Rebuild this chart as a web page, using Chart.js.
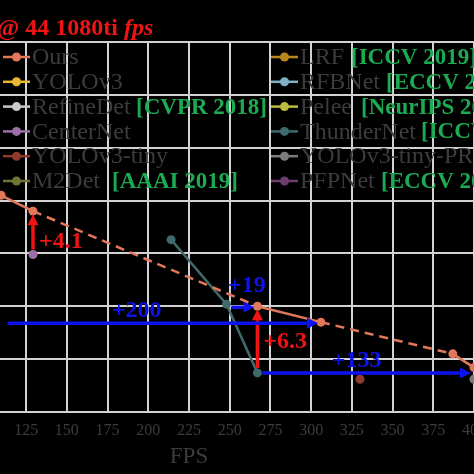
<!DOCTYPE html>
<html>
<head>
<meta charset="utf-8">
<script src="https://cdn.jsdelivr.net/npm/chart.js@4.4.1/dist/chart.umd.min.js"></script>
<style>
    html, body { margin: 0; padding: 0; background: #000; overflow: hidden; }
    #wrap { position: absolute; left: -150px; top: 0; width: 654px; height: 474px; }
</style>
</head>
<body>
<div id="wrap"><canvas id="chart" width="654" height="474"></canvas></div>
<script>
// The reference is a crop of a bigger figure, so the canvas is wider
// and shifted left; the y axis labels end up outside the window.
const CROP_LEFT = 150;

// Axis ranges
const fpsMin = 50, fpsMax = 400, fpsStep = 25;
const mapMin = 60, mapMax = 95, mapStep = 5;

// Series (fps, mAP)
const oursFps = [109.6, 129.2, 267, 306, 387, 400];
const oursMap = [80.5, 79.0, 70.0, 68.5, 65.5, 64.2];
const centerNetFps = [129.2];
const centerNetMap = [74.9];
const thunderNetFps = [214, 248, 267];
const thunderNetMap = [76.3, 70.2, 63.7];
const yolov3TinyFps = [330];
const yolov3TinyMap = [63.1];
const prnFps = [400];
const prnMap = [63.1];

// Legend labels (order = column by column) and colours
const labels = ['Ours', 'YOLOv3', 'RefineDet', 'CenterNet', 'YOLOv3-tiny', 'M2Det',
                'LRF', 'RFBNet', 'Pelee', 'ThunderNet', 'YOLOv3-tiny-PRN', 'PFPNet'];
const colors = ['#e2775a', '#e8b832', '#c8c8c8', '#9c6fa8', '#8e3b2c', '#6f7434',
                '#b8881c', '#7fb0c8', '#bcbd3c', '#3e6a6c', '#7c7c7c', '#6a3d6e'];
const venues = ['', '', '[CVPR 2018]', '', '', '[AAAI 2019]',
                '[ICCV 2019]', '[ECCV 2018]', '[NeurIPS 2018]', '[ICCV 2019]', '', '[ECCV 2018]'];

const seriesData = {
    'Ours': [oursFps, oursMap],
    'CenterNet': [centerNetFps, centerNetMap],
    'ThunderNet': [thunderNetFps, thunderNetMap],
    'YOLOv3-tiny': [yolov3TinyFps, yolov3TinyMap],
    'YOLOv3-tiny-PRN': [prnFps, prnMap]
};

const gridColor = '#d2d2d2';
const textGrey = '#3c3c3c';
const serif = "'Liberation Serif', 'DejaVu Serif', serif";

function toPoints(xs, ys) {
    return xs.map((x, i) => ({ x: x, y: ys[i] }));
}

const datasets = labels.map((label, i) => {
    const pair = seriesData[label];
    const ds = {
        label: label,
        data: pair ? toPoints(pair[0], pair[1]) : [],
        showLine: true,
        borderColor: colors[i],
        backgroundColor: colors[i],
        borderWidth: 2.5,
        pointRadius: 4.5,
        pointBorderWidth: 0
    };
    if (label === 'Ours') {
        // pairs of variants are joined solid, the links between them dashed
        ds.segment = {
            borderDash: ctx => ctx.p0DataIndex % 2 === 1 ? [9, 6] : undefined
        };
    }
    return ds;
});

// Gain annotations (arrow from -> to in data units, label offset in px)
const RED = '#f01414';
const BLUE = '#0c12f0';
const gains = [
    { text: '+4.1', color: RED, from: [129.2, 74.9], to: [129.2, 79.0], dx: 6, dy: 10, align: 'left' },
    { text: '+6.3', color: RED, from: [267, 63.7], to: [267, 70.0], dx: 6, dy: 3, align: 'left' },
    { text: '+200', color: BLUE, from: [110.5, 68.4], to: [306, 68.4], dx: -26, dy: -12, align: 'center' },
    { text: '+19', color: BLUE, from: [248, 69.9], to: [267, 69.9], dx: 4, dy: -22, align: 'center' },
    { text: '+133', color: BLUE, from: [267, 63.7], to: [400, 63.7], dx: -10, dy: -12, align: 'center' }
];

// Title line (only the right part survives the crop)
const titlePlugin = {
    id: 'cropTitle',
    afterDraw(chart) {
        const ctx = chart.ctx;
        ctx.save();
        ctx.fillStyle = RED;
        ctx.textBaseline = 'alphabetic';
        ctx.font = 'bold 24px ' + serif;
        const start = CROP_LEFT - 3;
        const head = '@ 44 1080ti ';
        ctx.fillText(head, start, 35);
        const w = ctx.measureText(head).width;
        ctx.font = 'italic bold 24px ' + serif;
        ctx.fillText('fps', start + w, 35);
        ctx.restore();
    }
};

// Arrows with gain labels
const gainPlugin = {
    id: 'gains',
    afterDatasetsDraw(chart) {
        const ctx = chart.ctx;
        const xs = chart.scales.x, ys = chart.scales.y;
        ctx.save();
        gains.forEach(g => {
            let x0 = xs.getPixelForValue(g.from[0]), y0 = ys.getPixelForValue(g.from[1]);
            let x1 = xs.getPixelForValue(g.to[0]), y1 = ys.getPixelForValue(g.to[1]);
            const len = Math.hypot(x1 - x0, y1 - y0);
            const ux = (x1 - x0) / len, uy = (y1 - y0) / len;
            // keep clear of the markers
            x0 += ux * 5; y0 += uy * 5;
            x1 -= ux * 3; y1 -= uy * 3;
            const head = 11, half = 5.5;
            ctx.strokeStyle = g.color;
            ctx.fillStyle = g.color;
            ctx.lineWidth = 3.5;
            ctx.beginPath();
            ctx.moveTo(x0, y0);
            ctx.lineTo(x1 - ux * head, y1 - uy * head);
            ctx.stroke();
            ctx.beginPath();
            ctx.moveTo(x1, y1);
            ctx.lineTo(x1 - ux * head - uy * half, y1 - uy * head + ux * half);
            ctx.lineTo(x1 - ux * head + uy * half, y1 - uy * head - ux * half);
            ctx.closePath();
            ctx.fill();

            const mx = (x0 + x1) / 2, my = (y0 + y1) / 2;
            ctx.font = 'bold 24px ' + serif;
            ctx.textAlign = g.align;
            ctx.textBaseline = 'middle';
            ctx.fillText(g.text, mx + g.dx, my + g.dy);
        });
        ctx.restore();
    }
};

// Two-column legend drawn inside the plot, with venue tags
const legendPlugin = {
    id: 'cropLegend',
    afterDraw(chart) {
        const ctx = chart.ctx;
        const colX = [3, 271];          // marker start of each column
        const rowY0 = 57, rowGap = 24.8;
        const venueX = [0, 0, 136, 0, 0, 112, 351, 386, 361, 421, 0, 381];
        ctx.save();
        chart.data.datasets.forEach((ds, i) => {
            const col = Math.floor(i / 6), row = i % 6;
            const x = CROP_LEFT + colX[col];
            const y = rowY0 + row * rowGap;
            ctx.strokeStyle = ds.borderColor;
            ctx.fillStyle = ds.borderColor;
            ctx.lineWidth = 2.5;
            ctx.beginPath();
            ctx.moveTo(x, y);
            ctx.lineTo(x + 27, y);
            ctx.stroke();
            ctx.beginPath();
            ctx.arc(x + 13.5, y, 4.5, 0, Math.PI * 2);
            ctx.fill();

            ctx.fillStyle = textGrey;
            ctx.font = '24px ' + serif;
            ctx.textBaseline = 'middle';
            ctx.textAlign = 'left';
            ctx.fillText(ds.label, x + 29, y + 1);

            if (venues[i]) {
                ctx.fillStyle = '#1caa52';
                ctx.font = 'bold 23px ' + serif;
                ctx.fillText(venues[i], CROP_LEFT + venueX[i], y + 1);
            }
        });
        ctx.restore();
    }
};

new Chart(document.getElementById('chart'), {
    type: 'scatter',
    data: { datasets: datasets },
    options: {
        responsive: false,
        animation: false,
        layout: { padding: { top: 42, right: 30, left: 0, bottom: 0 } },
        plugins: {
            legend: { display: false },
            tooltip: { enabled: false }
        },
        scales: {
            x: {
                type: 'linear',
                min: fpsMin,
                max: fpsMax,
                ticks: { stepSize: fpsStep, color: textGrey, padding: 9, font: { family: serif, size: 16 } },
                grid: { color: gridColor, lineWidth: 2, drawTicks: false },
                border: { color: gridColor, width: 2 },
                title: { display: true, text: 'FPS', color: textGrey, padding: { top: 0, bottom: 3 }, font: { family: serif, size: 23 } },
                afterFit: axis => { axis.height = 62; }
            },
            y: {
                type: 'linear',
                min: mapMin,
                max: mapMax,
                ticks: { stepSize: mapStep, color: textGrey, font: { family: serif, size: 16 } },
                grid: { color: gridColor, lineWidth: 2, drawTicks: false },
                border: { color: gridColor, width: 2 },
                afterFit: axis => { axis.width = 54; }
            }
        }
    },
    plugins: [titlePlugin, gainPlugin, legendPlugin]
});
</script>
</body>
</html>
